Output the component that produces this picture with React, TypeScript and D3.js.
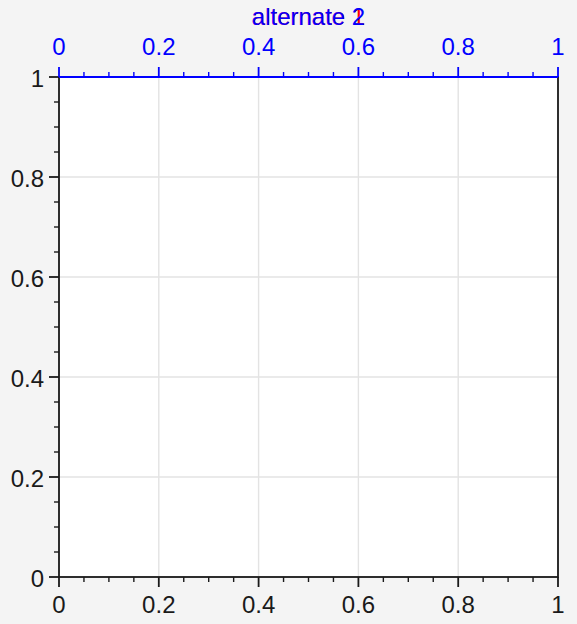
import { scaleLinear } from "d3";

const WIDTH = 577;
const HEIGHT = 624;
const PLOT = { left: 59, right: 558, top: 77, bottom: 577 };

const MAJOR_TICKS = [0, 0.2, 0.4, 0.6, 0.8, 1];
const TICK_LABELS = ["0", "0.2", "0.4", "0.6", "0.8", "1"];
const MINOR_TICKS = [
  0.05, 0.1, 0.15, 0.25, 0.3, 0.35, 0.45, 0.5, 0.55, 0.65, 0.7, 0.75, 0.85, 0.9, 0.95,
];
const TITLES = ["alternate 1", "alternate 2"];
const TITLE_COLORS = ["red", "blue"];

const FONT = "'Liberation Sans', Arial, Helvetica, sans-serif";
const FONT_SIZE = 24;
const INK = "#1a1a1a";
const ALT = "blue";
const MAJOR_LEN = 10;
const MINOR_LEN = 5;

export default function App() {
  const x = scaleLinear().domain([0, 1]).range([PLOT.left, PLOT.right]);
  const y = scaleLinear().domain([0, 1]).range([PLOT.bottom, PLOT.top]);
  const centerX = (PLOT.left + PLOT.right) / 2;

  return (
    <svg
      width={WIDTH}
      height={HEIGHT}
      viewBox={`0 0 ${WIDTH} ${HEIGHT}`}
      style={{ position: "absolute", left: 0, top: 0, fontFamily: FONT }}
    >
      <rect width={WIDTH} height={HEIGHT} fill="#f4f4f4" />
      <rect
        x={PLOT.left}
        y={PLOT.top}
        width={PLOT.right - PLOT.left}
        height={PLOT.bottom - PLOT.top}
        fill="#ffffff"
      />

      {/* grid */}
      {MAJOR_TICKS.map((t) => (
        <g key={`grid-${t}`} stroke="#e3e3e3" strokeWidth={1.4}>
          <line x1={x(t)} x2={x(t)} y1={PLOT.top} y2={PLOT.bottom} />
          <line x1={PLOT.left} x2={PLOT.right} y1={y(t)} y2={y(t)} />
        </g>
      ))}

      {/* frame */}
      <rect
        x={PLOT.left}
        y={PLOT.top}
        width={PLOT.right - PLOT.left}
        height={PLOT.bottom - PLOT.top}
        fill="none"
        stroke={INK}
        strokeWidth={1.8}
      />

      {/* bottom axis ticks */}
      <g stroke={INK}>
        {MAJOR_TICKS.map((t) => (
          <line key={`bx-${t}`} x1={x(t)} x2={x(t)} y1={PLOT.bottom} y2={PLOT.bottom + MAJOR_LEN} strokeWidth={1.8} />
        ))}
        {MINOR_TICKS.map((t) => (
          <line key={`bxm-${t}`} x1={x(t)} x2={x(t)} y1={PLOT.bottom} y2={PLOT.bottom + MINOR_LEN} strokeWidth={1.4} />
        ))}
        {MAJOR_TICKS.map((t) => (
          <line key={`ly-${t}`} x1={PLOT.left - MAJOR_LEN} x2={PLOT.left} y1={y(t)} y2={y(t)} strokeWidth={1.8} />
        ))}
        {MINOR_TICKS.map((t) => (
          <line key={`lym-${t}`} x1={PLOT.left - MINOR_LEN} x2={PLOT.left} y1={y(t)} y2={y(t)} strokeWidth={1.4} />
        ))}
      </g>

      {/* top alternate axis */}
      <g stroke={ALT}>
        <line x1={PLOT.left} x2={PLOT.right} y1={PLOT.top} y2={PLOT.top} strokeWidth={1.8} />
        {MAJOR_TICKS.map((t) => (
          <line key={`tx-${t}`} x1={x(t)} x2={x(t)} y1={PLOT.top} y2={PLOT.top - MAJOR_LEN} strokeWidth={1.8} />
        ))}
        {MINOR_TICKS.map((t) => (
          <line key={`txm-${t}`} x1={x(t)} x2={x(t)} y1={PLOT.top} y2={PLOT.top - MINOR_LEN} strokeWidth={1.4} />
        ))}
      </g>

      {/* labels */}
      <g fontSize={FONT_SIZE}>
        {MAJOR_TICKS.map((t, i) => (
          <text key={`bl-${t}`} x={x(t)} y={613} textAnchor="middle" fill={INK}>
            {TICK_LABELS[i]}
          </text>
        ))}
        {MAJOR_TICKS.map((t, i) => (
          <text key={`ll-${t}`} x={PLOT.left - MAJOR_LEN - 5} y={y(t) + 9.5} textAnchor="end" fill={INK}>
            {TICK_LABELS[i]}
          </text>
        ))}
        {MAJOR_TICKS.map((t, i) => (
          <text key={`tl-${t}`} x={x(t)} y={55} textAnchor="middle" fill={ALT}>
            {TICK_LABELS[i]}
          </text>
        ))}
        {TITLES.map((title, i) => (
          <text key={title} x={centerX} y={25} textAnchor="middle" fill={TITLE_COLORS[i]}>
            {title}
          </text>
        ))}
      </g>
    </svg>
  );
}
